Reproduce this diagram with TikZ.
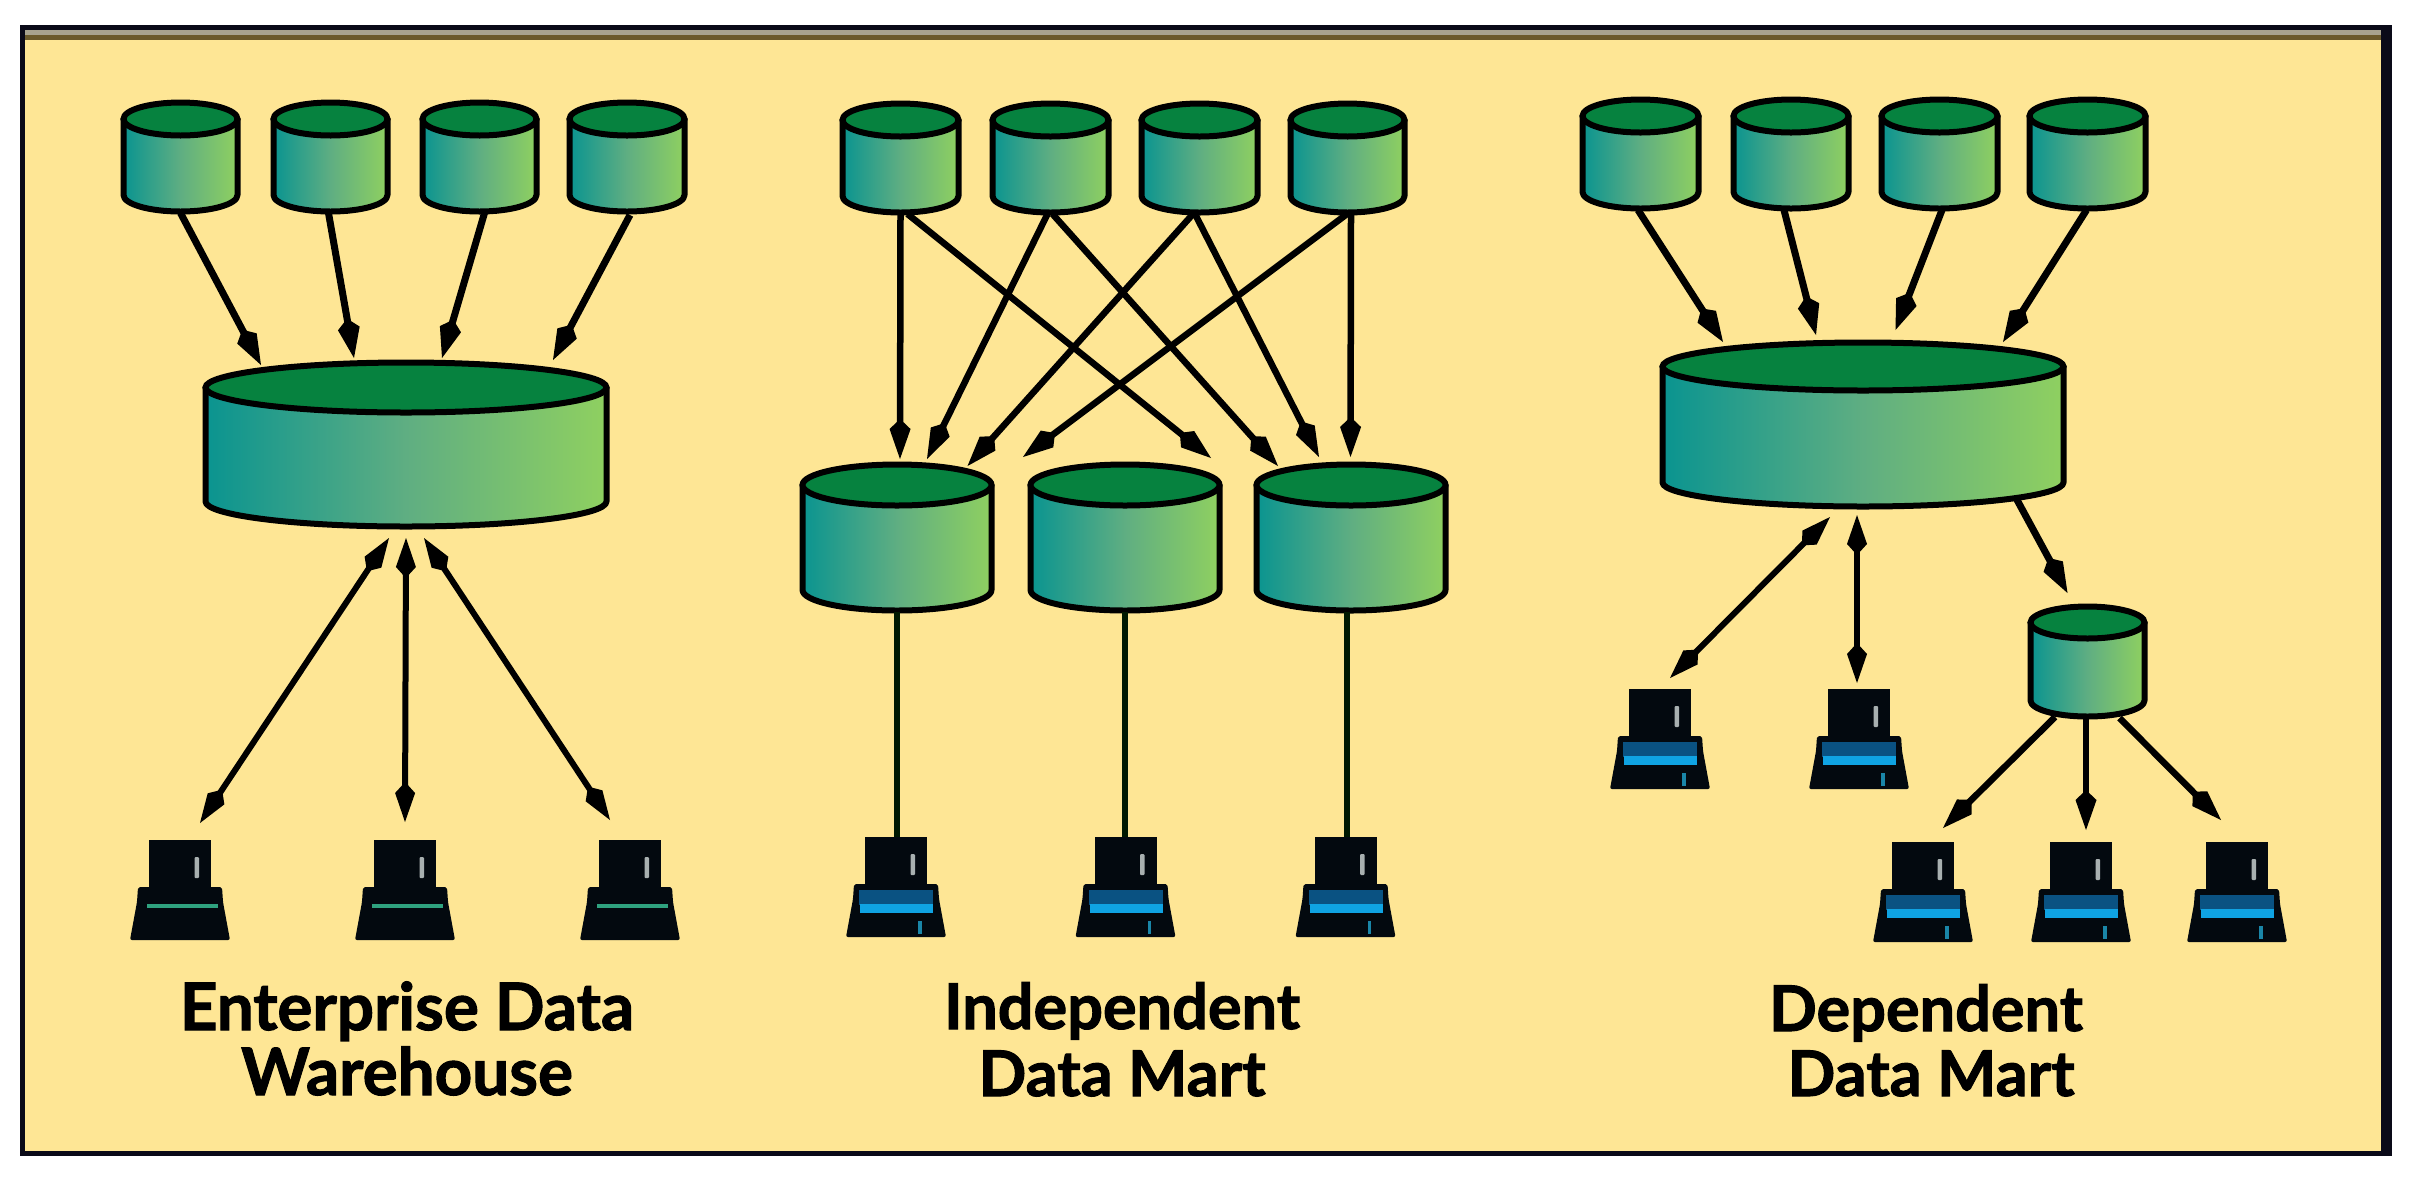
\documentclass[tikz,border=0pt]{standalone}
\usepackage{fontspec}
\setmainfont[BoldFeatures={FakeBold=1.6}]{Lato}
\usetikzlibrary{arrows.meta}
\definecolor{paper}{HTML}{FEE695}
\definecolor{frameink}{HTML}{0A0A18}
\definecolor{bandgrey}{HTML}{A8A38F}
\definecolor{bandbrown}{HTML}{6B5A2C}
\definecolor{cylleft}{HTML}{0A9490}
\definecolor{cylmid}{HTML}{5FAE82}
\definecolor{cylright}{HTML}{8FD060}
\definecolor{cyltop}{HTML}{06823F}
\definecolor{pcbody}{HTML}{03090F}
\definecolor{pcslot}{HTML}{A8B0B0}
\definecolor{pcgreen}{HTML}{2FA27F}
\definecolor{pcblue}{HTML}{0FA3E3}
\definecolor{pcnavy}{HTML}{0A5282}
\definecolor{pcteal}{HTML}{1A86A8}
\tikzset{
  x=1pt,y=-1pt,
  anchorbox/.style={rectangle,inner sep=0pt,outer sep=0pt,draw=none,fill=none},
  cylbody/.style={draw=black,line width=6pt,line join=round,left color=cylleft,right color=cylright,middle color=cylmid},
  cylcap/.style={draw=black,line width=6pt,fill=cyltop},
  arr/.style={draw=black,line width=7pt,-{Kite[length=40pt,width=22pt,inset=10pt]}},
  arrtwo/.style={draw=black,line width=6pt,{Kite[length=40pt,width=20pt,inset=11pt]}-{Kite[length=40pt,width=20pt,inset=11pt]}},
  arrthin/.style={draw=black,line width=6.5pt,-{Kite[length=40pt,width=21pt,inset=10pt]}},
  plainline/.style={draw=black!90!green,line width=6pt},
  caption/.style={anchor=base,inner sep=0pt,font=\fontsize{63}{63}\selectfont\bfseries,text=black},
  bigcaption/.style={caption,font=\fontsize{65.5}{65.5}\selectfont\bfseries}
}
% #1 name, #2 left, #3 right, #4 top, #5 bottom, #6 cap height (outer sizes)
\newcommand\cyl[6]{%
  \node[anchorbox,minimum width=#3pt-#2pt,minimum height=#5pt-#4pt] (#1) at ({(#2+#3)/2},{(#4+#5)/2}) {};
  \pgfmathsetmacro\lft{#2+2.5}\pgfmathsetmacro\rgt{#3-2.5}%
  \pgfmathsetmacro\topp{#4+2.5}\pgfmathsetmacro\bot{#5-1.5}%
  \pgfmathsetmacro\cxx{(#2+#3)/2}\pgfmathsetmacro\rxx{(\rgt-\lft)/2}%
  \pgfmathsetmacro\eyy{#6/2}\pgfmathsetmacro\kx{0.5523*\rxx}\pgfmathsetmacro\ky{0.5523*\eyy}%
  \pgfmathsetmacro\tyy{\topp+\eyy}\pgfmathsetmacro\byy{\bot-\eyy}\pgfmathsetmacro\capb{\topp+#6}%
  \path[cylbody] (\lft,\tyy) -- (\lft,\byy)
    .. controls (\lft,\byy+\ky) and (\cxx-\kx,\bot) .. (\cxx,\bot)
    .. controls (\cxx+\kx,\bot) and (\rgt,\byy+\ky) .. (\rgt,\byy)
    -- (\rgt,\tyy) -- cycle;
  \path[cylcap] (\lft,\tyy)
    .. controls (\lft,\tyy+\ky) and (\cxx-\kx,\capb) .. (\cxx,\capb)
    .. controls (\cxx+\kx,\capb) and (\rgt,\tyy+\ky) .. (\rgt,\tyy)
    .. controls (\rgt,\tyy-\ky) and (\cxx+\kx,\topp) .. (\cxx,\topp)
    .. controls (\cxx-\kx,\topp) and (\lft,\tyy-\ky) .. (\lft,\tyy) -- cycle;
}
% common computer silhouette: #1 name, #2 centre x, #3 top y
\newcommand\pcshape[3]{%
  \node[anchorbox,minimum width=100pt,minimum height=100pt] (#1) at (#2,#3+50) {};
  \begin{scope}[shift={(#2,#3)}]
    \fill[pcbody] (-31,0) rectangle (31,50);
    \fill[pcbody,rounded corners=2pt] (-42,47) -- (42,47) -- (43,62) -- (50,100) -- (-50,100) -- (-43,62) -- cycle;
    \fill[pcslot,rounded corners=1pt] (14.5,17) rectangle (19,38);
  \end{scope}
}
\newcommand\pcg[3]{\pcshape{#1}{#2}{#3}%
  \begin{scope}[shift={(#2,#3)}]
    \fill[pcgreen] (-33,63.5) rectangle (38,67.5);
  \end{scope}}
\newcommand\pcb[3]{\pcshape{#1}{#2}{#3}%
  \begin{scope}[shift={(#2,#3)}]
    \fill[pcnavy] (-37,53) rectangle (37,68);
    \fill[pcblue] (-36,67) rectangle (37,76);
    \fill[pcteal] (22,84) rectangle (25.5,97);
  \end{scope}}
\begin{document}
\begin{tikzpicture}
\useasboundingbox (0,0) rectangle (2411,1179);
\fill[white] (0,0) rectangle (2411,1179);
\fill[frameink] (20,25) rectangle (2392,1156);
\fill[bandgrey] (25,30) rectangle (2381,35);
\fill[bandbrown] (25,35) rectangle (2381,40);
\fill[paper] (25,40) rectangle (2381,1151);

% Enterprise Data Warehouse
\cyl{ea}{121}{240}{100}{213}{33}
\cyl{eb}{271}{390}{100}{213}{33}
\cyl{ec}{420}{539}{100}{213}{33}
\cyl{ed}{567}{687}{100}{213}{33}
\cyl{ew}{203}{609}{360}{528}{50}
\pcg{ep}{180}{840}
\pcg{eq}{405}{840}
\pcg{er}{630}{840}
\draw[arr] ([shift={(0,0)}]ea.south) -- ([shift={(-145,5)}]ew.north);
\draw[arr] ([shift={(-2,0)}]eb.south) -- ([shift={(-52,-2)}]ew.north);
\draw[arr] ([shift={(5,0)}]ec.south) -- ([shift={(36,-2)}]ew.north);
\draw[arr] ([shift={(3,2)}]ed.south) -- ([shift={(147,0)}]ew.north);
\draw[arrtwo] ([shift={(-17,10)}]ew.south) -- ([shift={(20,-17)}]ep.north);
\draw[arrtwo] ([shift={(0,10)}]ew.south) -- ([shift={(0,-18)}]eq.north);
\draw[arrtwo] ([shift={(18,10)}]ew.south) -- ([shift={(-20,-20)}]er.north);

% Independent Data Mart
\cyl{ia}{840}{961}{101}{214}{33}
\cyl{ib}{990}{1111}{101}{214}{33}
\cyl{ic}{1139}{1260}{101}{214}{33}
\cyl{id}{1288}{1407}{101}{214}{33}
\cyl{ma}{800}{994}{462}{612}{41}
\cyl{mb}{1028}{1222}{462}{612}{41}
\cyl{mc}{1254}{1448}{462}{612}{41}
\pcb{ip}{896}{837}
\pcb{iq}{1125.5}{837}
\pcb{ir}{1345.5}{837}
\draw[arrthin] ([shift={(0,0)}]ia.south) -- ([shift={(3,-3)}]ma.north);
\draw[arrthin] ([shift={(7,0)}]ia.south) -- ([shift={(86,-4)}]mb.north);
\draw[arrthin] ([shift={(-3,0)}]ib.south) -- ([shift={(30,-3)}]ma.north);
\draw[arrthin] ([shift={(2,0)}]ib.south) -- ([shift={(-73,4)}]mc.north);
\draw[arrthin] ([shift={(-6.5,0)}]ic.south) -- ([shift={(70.5,4)}]ma.north);
\draw[arrthin] ([shift={(-4.5,0)}]ic.south) -- ([shift={(-32,-5)}]mc.north);
\draw[arrthin] ([shift={(-0.5,0)}]id.south) -- ([shift={(-102,-5)}]mb.north);
\draw[arrthin] ([shift={(3.5,0)}]id.south) -- ([shift={(-0.5,-5)}]mc.north);
\draw[plainline] (ma.south) -- ([shift={(1,0)}]ip.north);
\draw[plainline] (mb.south) -- ([shift={(-0.5,0)}]iq.north);
\draw[plainline] ([shift={(-4,0)}]mc.south) -- ([shift={(1.5,0)}]ir.north);

% Dependent Data Mart
\cyl{da}{1580}{1701}{97}{210}{33}
\cyl{db}{1731}{1851}{97}{210}{33}
\cyl{dc}{1879}{2000}{97}{210}{33}
\cyl{dd}{2027}{2148}{97}{210}{33}
\cyl{dw}{1660}{2066}{340}{508}{48}
\cyl{dm}{2028}{2147}{604}{718}{32}
\pcb{dp}{1660}{689}
\pcb{dq}{1859}{689}
\pcb{dr}{1923}{842}
\pcb{ds}{2081}{842}
\pcb{dt}{2237}{842}
\draw[arr] ([shift={(-2.5,0)}]da.south) -- ([shift={(-140,2)}]dw.north);
\draw[arr] ([shift={(-7,0)}]db.south) -- ([shift={(-47,-5)}]dw.north);
\draw[arr] ([shift={(2.5,0)}]dc.south) -- ([shift={(32.5,-10)}]dw.north);
\draw[arr] ([shift={(-1,0)}]dd.south) -- ([shift={(140,2)}]dw.north);
\draw[arrtwo] ([shift={(-33,9)}]dw.south) -- ([shift={(10,-11)}]dp.north);
\draw[arrtwo] ([shift={(-6,7)}]dw.south) -- ([shift={(-2,-6)}]dq.north);
\draw[arr] ([shift={(153,-10)}]dw.south) -- ([shift={(-20,-11)}]dm.north);
\draw[arrthin] ([shift={(-32.5,-1)}]dm.south) -- ([shift={(20,-14)}]dr.north);
\draw[arrthin] ([shift={(-1.5,0)}]dm.south) -- ([shift={(5,-12)}]ds.north);
\draw[arrthin] ([shift={(32,0)}]dm.south) -- ([shift={(-16,-22)}]dt.north);

% Captions
\node[bigcaption] (ta) at (407,1030) {Enterprise Data};
\node[bigcaption] (tb) at (407,1095) {Warehouse};
\node[caption] (tc) at (1122,1029) {Independent};
\node[caption] (td) at (1122,1096) {Data Mart};
\node[caption] (te) at (1926,1031) {Dependent};
\node[caption] (tf) at (1931,1096) {Data Mart};
\end{tikzpicture}
\end{document}
